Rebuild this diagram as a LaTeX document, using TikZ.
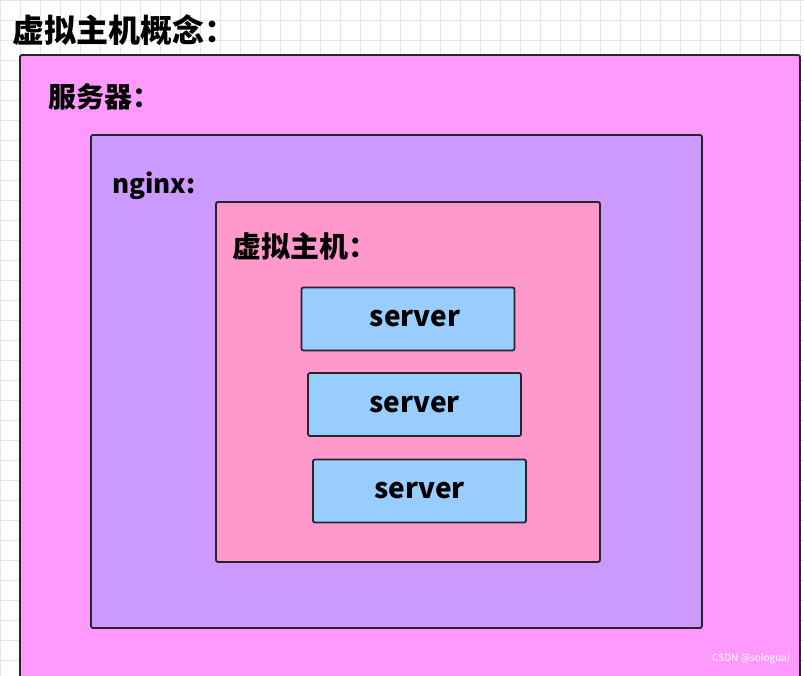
\documentclass[tikz,border=0pt]{standalone}
\usepackage{fontspec}
\setmainfont{Noto Sans CJK SC}
\newfontfamily\cjk{Noto Sans CJK SC}
\begin{document}
\begin{tikzpicture}[x=1pt,y=-1pt,
  box/.style={draw=black!85,line width=1.8pt,rounded corners=2pt},
  lbl/.style={anchor=west,inner sep=0pt,font=\cjk\bfseries},
  srv/.style={box,fill=srvc,minimum width=213pt,minimum height=63pt,font=\cjk\bfseries\fontsize{28}{32}\selectfont}]
\definecolor{outc}{HTML}{FF99FF}
\definecolor{ngc}{HTML}{CC99FF}
\definecolor{vhc}{HTML}{FF99CC}
\definecolor{srvc}{HTML}{99CCFF}
\useasboundingbox (0,0) rectangle (804,676);
\fill[white] (0,0) rectangle (804,676);
\draw[black!10,line width=0.6pt,step=20pt] (0,0) grid (804,676);
\node[lbl,font=\cjk\bfseries\fontsize{32}{36}\selectfont] (title) at (12,30) {虚拟主机概念：};
\draw[box,fill=outc] (20,55) rectangle (800,690);
\node[lbl,font=\cjk\bfseries\fontsize{28}{32}\selectfont] (srvlbl) at (48,97) {服务器：};
\draw[box,fill=ngc] (91,135) rectangle (702,628);
\node[lbl,font=\cjk\bfseries\fontsize{26}{30}\selectfont] (nglbl) at (112,186) {nginx:};
\draw[box,fill=vhc] (216,202) rectangle (600,562);
\node[lbl,font=\cjk\bfseries\fontsize{29}{33}\selectfont] (vhlbl) at (232,246) {虚拟主机：};
\node[srv,text width=190pt,align=center] (s1) at (408,319) {\hspace*{14pt}server};
\node[srv] (s2) at (414.5,404.5) {server};
\node[srv] (s3) at (419.5,491) {server};
\node[anchor=east,inner sep=0pt,font=\fontsize{10}{12}\selectfont,text=white] (wm) at (790,659) {CSDN @sologuai};
\end{tikzpicture}
\end{document}
